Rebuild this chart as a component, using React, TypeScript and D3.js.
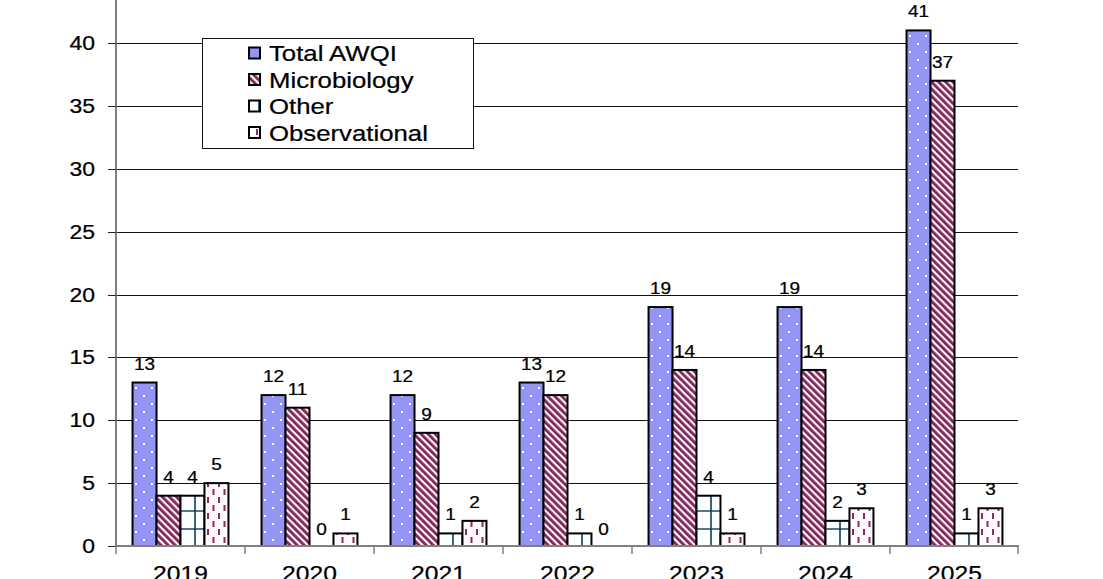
import React from 'react';
import * as d3 from 'd3';

const years = ['2019', '2020', '2021', '2022', '2023', '2024', '2025'];
const totalAwqi = [13, 12, 12, 13, 19, 19, 41];
const microbiology = [4, 11, 9, 12, 14, 14, 37];
const other = [4, 0, 1, 1, 4, 2, 1];
const observational = [5, 1, 2, 0, 1, 3, 3];
const yTicks = [0, 5, 10, 15, 20, 25, 30, 35, 40];
const seriesNames = ['Total AWQI', 'Microbiology', 'Other', 'Observational'];

const width = 1103;
const height = 579;
const font = 'Liberation Sans, Arial, sans-serif';
// text in this chart is drawn a little wider than tall
const SX = 1.12;

const plotLeft = 116;
const plotRight = 1019;
const baseline = 546;

const seriesValues = [totalAwqi, microbiology, other, observational];
const seriesFill = ['url(#dots)', 'url(#stripes)', 'url(#grid)', 'url(#dashes)'];

function Txt({ x, y, size, anchor = 'middle', children }: any) {
  return (
    <text
      transform={`translate(${x},${y}) scale(${SX},1)`}
      textAnchor={anchor}
      fontSize={size}
      fontFamily={font}
      fill="#000"
      stroke="#000"
      strokeWidth={0.25}
    >
      {children}
    </text>
  );
}

export default function App() {
  const y = d3.scaleLinear().domain([0, 40]).range([baseline, 43]);
  const x = d3.scaleBand().domain(years).range([plotLeft, plotRight]);
  const inner = d3
    .scaleBand()
    .domain(seriesNames)
    .range([0, x.bandwidth()])
    .paddingOuter(0.69);
  const bw = inner.bandwidth();

  const legendX = 202;
  const legendY = 38;

  return (
    <svg
      width={width}
      height={height}
      style={{ position: 'absolute', left: 0, top: 0, display: 'block', background: '#fff' }}
    >
      <defs>
        <pattern id="dots" width="16" height="16" patternUnits="userSpaceOnUse">
          <rect width="16" height="16" fill="#9494f4" />
          <rect x="3" y="3" width="2" height="2" fill="#fff" />
          <rect x="11" y="11" width="2" height="2" fill="#fff" />
        </pattern>
        <pattern
          id="stripes"
          width="5"
          height="5"
          patternUnits="userSpaceOnUse"
          patternTransform="rotate(-45)"
        >
          <rect width="5" height="5" fill="#fff2fa" />
          <rect width="2.8" height="5" fill="#7e2658" />
        </pattern>
        <pattern id="grid" width="15" height="18" patternUnits="userSpaceOnUse">
          <rect width="15" height="18" fill="#fbffff" />
          <line x1="4" x2="4" y1="0" y2="18" stroke="#0d3a58" strokeWidth="1.6" />
          <line x1="0" x2="15" y1="7" y2="7" stroke="#0d3a58" strokeWidth="1.4" />
        </pattern>
        <pattern id="dashes" width="11" height="16" patternUnits="userSpaceOnUse">
          <rect width="11" height="16" fill="#fffafd" />
          <rect x="3" y="1" width="2" height="6" fill="#8a2a5e" />
          <rect x="8.5" y="9" width="2" height="6" fill="#8a2a5e" />
        </pattern>
      </defs>

      {/* horizontal gridlines */}
      {yTicks
        .filter((t) => t > 0)
        .map((t) => (
          <line
            key={`g${t}`}
            x1={plotLeft}
            x2={plotRight - 1}
            y1={Math.round(y(t)) + 0.5}
            y2={Math.round(y(t)) + 0.5}
            stroke="#111"
            strokeWidth={1}
          />
        ))}

      {/* y axis */}
      <line x1={plotLeft} x2={plotLeft} y1={0} y2={baseline} stroke="#808080" strokeWidth={2} />
      {yTicks.map((t) => (
        <g key={`t${t}`}>
          <line
            x1={plotLeft - 8}
            x2={plotLeft}
            y1={Math.round(y(t)) + 0.5}
            y2={Math.round(y(t)) + 0.5}
            stroke="#222"
            strokeWidth={1}
          />
          <Txt x={95} y={y(t) + 7} size={20.5} anchor="end">
            {t}
          </Txt>
        </g>
      ))}

      {/* bars */}
      {years.map((yr, i) => (
        <g key={yr} transform={`translate(${x(yr)},0)`}>
          {seriesNames.map((s, j) => {
            const v = seriesValues[j][i];
            const bx = inner(s) as number;
            return (
              <g key={s}>
                {v > 0 && (
                  <rect
                    x={bx}
                    y={y(v)}
                    width={bw}
                    height={baseline - y(v)}
                    fill={seriesFill[j]}
                    stroke="#000"
                    strokeWidth={2}
                  />
                )}
                <Txt x={bx + bw / 2} y={v > 0 ? y(v) - 13 : baseline - 11} size={17}>
                  {v}
                </Txt>
              </g>
            );
          })}
        </g>
      ))}

      {/* x axis */}
      <line x1={plotLeft} x2={plotRight} y1={baseline} y2={baseline} stroke="#808080" strokeWidth={2} />
      {years.map((yr) => (
        <line
          key={`xt${yr}`}
          x1={x(yr) as number}
          x2={x(yr) as number}
          y1={baseline}
          y2={baseline + 8}
          stroke="#808080"
          strokeWidth={1.5}
        />
      ))}
      <line x1={plotRight - 1} x2={plotRight - 1} y1={baseline} y2={baseline + 8} stroke="#808080" strokeWidth={1.5} />
      {years.map((yr) => (
        <Txt key={`xl${yr}`} x={(x(yr) as number) + x.bandwidth() / 2} y={581} size={22}>
          {yr}
        </Txt>
      ))}

      {/* legend */}
      <rect x={legendX + 0.5} y={legendY + 0.5} width={271} height={110} fill="#fff" stroke="#111" strokeWidth={1} />
      {seriesNames.map((s, j) => {
        const cy = 53 + j * 26.5;
        return (
          <g key={`lg${s}`}>
            <rect x={249} y={cy - 5.5} width={11} height={11} fill={seriesFill[j]} stroke="#000" strokeWidth={2} />
            <Txt x={269} y={cy + 8} size={23} anchor="start">
              {s}
            </Txt>
          </g>
        );
      })}
    </svg>
  );
}
